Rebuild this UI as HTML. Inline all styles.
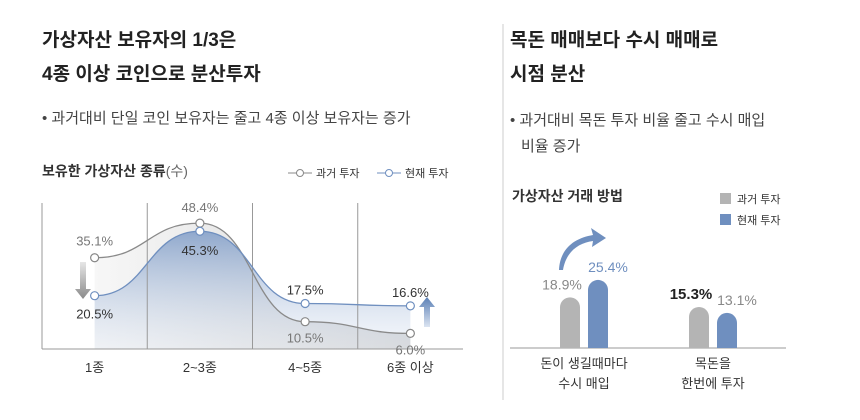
<!DOCTYPE html>
<html><head><meta charset="utf-8"><style>
body{margin:0;background:#fff;}
svg{display:block;font-family:"Liberation Sans","Noto Sans CJK KR",sans-serif;}
</style></head><body>
<svg id="s" width="860" height="420" viewBox="0 0 860 420">
<defs>
<linearGradient id="gBlue" x1="0" y1="0" x2="0" y2="1"><stop offset="0" stop-color="#7f9cc7" stop-opacity="0.85"/><stop offset="1" stop-color="#dfe7f3" stop-opacity="0.3"/></linearGradient>
<linearGradient id="gGray" x1="0" y1="0" x2="1" y2="0"><stop offset="0" stop-color="#f7f7f7"/><stop offset="1" stop-color="#d6d6d6"/></linearGradient>
<linearGradient id="aDown" x1="0" y1="0" x2="0" y2="1"><stop offset="0" stop-color="#e6e6e6"/><stop offset="1" stop-color="#8a8a8a"/></linearGradient>
<linearGradient id="aUp" x1="0" y1="1" x2="0" y2="0"><stop offset="0" stop-color="#dbe4f1"/><stop offset="1" stop-color="#5a7fb5"/></linearGradient>
</defs>
<text x="42" y="46" font-size="19" font-weight="bold" fill="#222">가상자산 보유자의 1/3은</text>
<text x="42" y="80" font-size="19" font-weight="bold" fill="#222">4종 이상 코인으로 분산투자</text>
<text x="42" y="123" font-size="15" fill="#444">• 과거대비 단일 코인 보유자는 줄고 4종 이상 보유자는 증가</text>
<line x1="503" y1="24" x2="503" y2="400" stroke="#ccc"/>
<text x="510" y="46" font-size="19" font-weight="bold" fill="#222">목돈 매매보다 수시 매매로</text>
<text x="510" y="80" font-size="19" font-weight="bold" fill="#222">시점 분산</text>
<text x="510" y="125" font-size="15" fill="#444">• 과거대비 목돈 투자 비율 줄고 수시 매입</text>
<text x="521" y="151" font-size="15" fill="#444">비율 증가</text>

<text x="42" y="176" font-size="14" font-weight="bold" fill="#333">보유한 가상자산 종류<tspan font-weight="normal" fill="#666">(수)</tspan></text>
<g>
<line x1="288" y1="173" x2="312" y2="173" stroke="#888"/><circle cx="300" cy="173" r="3.5" fill="#fff" stroke="#888"/>
<text x="316" y="177" font-size="11" fill="#333">과거 투자</text>
<line x1="377" y1="173" x2="401" y2="173" stroke="#6f8fbf"/><circle cx="389" cy="173" r="3.5" fill="#fff" stroke="#6f8fbf"/>
<text x="405" y="177" font-size="11" fill="#333">현재 투자</text>
</g>
<g id="lineChart"></g>
<g id="barChart"></g>
</svg>
<script>
const categories=["1종","2~3종","4~5종","6종 이상"];
const pastValues=[35.1,48.4,10.5,6.0];
const currentValues=[20.5,45.3,17.5,16.6];
const barCategories=[["돈이 생길때마다","수시 매입"],["목돈을","한번에 투자"]];
const barPast=[18.9,15.3];
const barCurrent=[25.4,13.1];
const NS="http://www.w3.org/2000/svg";
function mk(p,t,a){const e=document.createElementNS(NS,t);for(const k in a)e.setAttribute(k,a[k]);p.appendChild(e);return e;}
const lc=document.getElementById('lineChart');
const base=349,xL=42,xR=463,cw=(xR-xL)/categories.length;
const xs=i=>xL+cw*(i+0.5), ys=v=>base-v*2.6;
function smooth(vals){let d="M"+xs(0)+","+ys(vals[0]);for(let i=0;i<vals.length-1;i++){const x0=xs(i),x1=xs(i+1),m=(x1-x0)/2;d+=" C"+(x0+m)+","+ys(vals[i])+" "+(x1-m)+","+ys(vals[i+1])+" "+x1+","+ys(vals[i+1]);}return d;}
let e;
e=mk(lc,'path',{d:smooth(pastValues)+" L"+xs(3)+","+base+" L"+xs(0)+","+base+"Z",fill:"url(#gGray)"});

e=mk(lc,'path',{d:smooth(currentValues)+" L"+xs(3)+","+base+" L"+xs(0)+","+base+"Z",fill:"url(#gBlue)"});

for(let i=0;i<categories.length;i++){e=mk(lc,'line',{x1:xL+cw*i,y1:203,x2:xL+cw*i,y2:base,stroke:"#999","stroke-width":1});
}
e=mk(lc,'line',{x1:xL,y1:base,x2:xR,y2:base,stroke:"#999"});

e=mk(lc,'path',{d:smooth(pastValues),fill:"none",stroke:"#8a8a8a","stroke-width":1.3});

e=mk(lc,'path',{d:smooth(currentValues),fill:"none",stroke:"#6f8fbf","stroke-width":1.3});

const pOff=[[0,-16],[0,-15],[0,17],[0,17]],cOff=[[0,19],[0,20],[0,-13],[0,-13]];
categories.forEach((c,i)=>{
 e=mk(lc,'circle',{cx:xs(i),cy:ys(pastValues[i]),r:4,fill:"#fff",stroke:"#888","stroke-width":1.2});
 
 e=mk(lc,'circle',{cx:xs(i),cy:ys(currentValues[i]),r:4,fill:"#fff",stroke:"#6f8fbf","stroke-width":1.2});
 
 e=mk(lc,'text',{x:xs(i)+pOff[i][0],y:ys(pastValues[i])+pOff[i][1]+4,"font-size":13,fill:"#777","text-anchor":"middle"});e.textContent=pastValues[i].toFixed(1)+"%";
 
 e=mk(lc,'text',{x:xs(i)+cOff[i][0],y:ys(currentValues[i])+cOff[i][1]+4,"font-size":13,fill:"#333","text-anchor":"middle"});e.textContent=currentValues[i].toFixed(1)+"%";
 
 e=mk(lc,'text',{x:xs(i),y:372,"font-size":13,fill:"#333","text-anchor":"middle"});e.textContent=c;
 
});
e=mk(lc,'path',{d:"M80,262 h6 v27 h5 l-8,10 l-8,-10 h5z",fill:"url(#aDown)"});

e=mk(lc,'path',{d:"M424,327 h6 v-20 h5 l-8,-10 l-8,10 h5z",fill:"url(#aUp)"});


const bc=document.getElementById('barChart');
mk(bc,'text',{x:512,y:201,"font-size":14,"font-weight":"bold",fill:"#333"}).textContent="가상자산 거래 방법";
e=mk(bc,'rect',{x:720,y:193,width:11,height:11,fill:"#b4b4b4"});
mk(bc,'text',{x:737,y:203,"font-size":11,fill:"#333"}).textContent="과거 투자";
e=mk(bc,'rect',{x:720,y:214,width:11,height:11,fill:"#6f8fbf"});
mk(bc,'text',{x:737,y:224,"font-size":11,fill:"#333"}).textContent="현재 투자";
const bb=348,bs=2.68,gx=[560,689],bw=20;
e=mk(bc,'line',{x1:510,y1:bb,x2:786,y2:bb,stroke:"#999"});
function bar(x,v,col,name){const h=v*bs,y=bb-h,r=bw/2;const b=mk(bc,'path',{d:`M${x},${bb} V${y+r} A${r},${r} 0 0 1 ${x+bw},${y+r} V${bb}Z`,fill:col});return y;}
barCategories.forEach((c,i)=>{
 const y1=bar(gx[i],barPast[i],"#b4b4b4","bar-past"),y2=bar(gx[i]+28,barCurrent[i],"#6f8fbf","bar-current");
 e=mk(bc,'text',{x:gx[i]+2,y:y1-8,"font-size":i==0?14:15,"font-weight":i==0?"normal":"bold",fill:i==0?"#888":"#222","text-anchor":"middle"});e.textContent=barPast[i].toFixed(1)+"%";
 
 e=mk(bc,'text',{x:gx[i]+48,y:y2-8,"font-size":14,fill:i==0?"#6f8fbf":"#888","text-anchor":"middle"});e.textContent=barCurrent[i].toFixed(1)+"%";
 
 c.forEach((t,j)=>{e=mk(bc,'text',{x:gx[i]+24,y:368+j*20,"font-size":13,fill:"#333","text-anchor":"middle"});e.textContent=t;
 });
});
e=mk(bc,'path',{d:"M559,270 C560,248 575,238 593,235 L591,228 L606,238 L592,247 L593,241 C578,243 566,252 563,270Z",fill:"#6f8fbf"});

</script>
</body></html>
